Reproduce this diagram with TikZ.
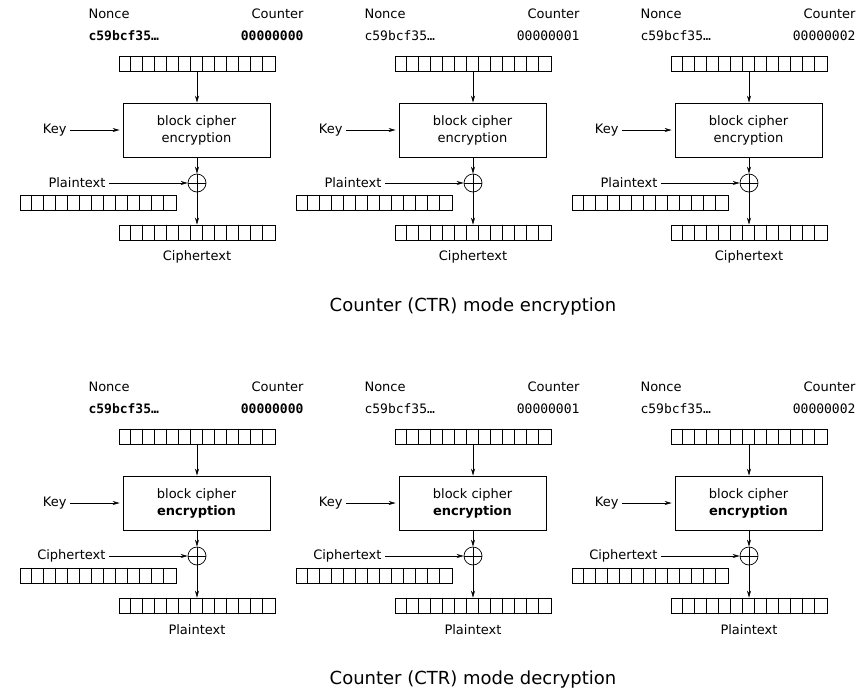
\documentclass[tikz,border=0pt]{standalone}
\usepackage{fontspec}
\setmainfont{DejaVu Sans}
\setmonofont{DejaVu Sans Mono}
\usetikzlibrary{arrows.meta}
\begin{document}
\begin{tikzpicture}[x=1pt,y=-1pt,font=\fontsize{13}{15}\selectfont,
  arr/.style={-{Stealth[length=7pt,width=4pt]},line width=0.6pt},
  box/.style={draw,line width=0.8pt,minimum width=147pt,minimum height=54pt,inner sep=0pt,align=center,font=\fontsize{13}{17}\selectfont},
  reg/.style={draw,line width=0.7pt,minimum width=156pt,minimum height=15pt,inner sep=0pt},
  xorc/.style={draw,circle,line width=0.7pt,minimum size=18pt,inner sep=0pt}]
\useasboundingbox (0,0) rectangle (867,699);
\fill[white] (0,0) rectangle (867,699);
\foreach \r/\oy/\inl/\outl/\fw/\ttl in {e/0/Plaintext/Ciphertext/\mdseries/encryption, d/373/Ciphertext/Plaintext/\bfseries/decryption}{
 \node[font=\fontsize{18}{20}\selectfont] (t\r) at (473,307+\oy) {Counter (CTR) mode \ttl};
 \foreach \c/\ox/\cnt/\mw in {1/0/00000000/\bfseries,2/276/00000001/\mdseries,3/552/00000002/\mdseries}{
  \begin{scope}[shift={(\ox,\oy)}]
   \node[anchor=west] (n\r\c) at (85,14) {Nonce};
   \node[anchor=east] (c\r\c) at (307,14) {Counter};
   \node[anchor=west,font=\fontsize{13}{15}\ttfamily\mw] (nv\r\c) at (85,36) {c59bcf35…};
   \node[anchor=east,font=\fontsize{13}{15}\ttfamily\mw] (cv\r\c) at (307,36) {\cnt};
   \node[reg] (top\r\c) at (197,63.5) {};
   \node[box] (b\r\c) at (196.5,130) {block cipher\\{\fw encryption}};
   \node[anchor=east] (k\r\c) at (70,130) {Key};
   \node[xorc] (x\r\c) at (197,183) {};
   \draw[line width=0.7pt] (x\r\c.north) -- (x\r\c.south) (x\r\c.west) -- (x\r\c.east);
   \node[anchor=east] (i\r\c) at (109,183) {\inl};
   \node[reg] (in\r\c) at (98,202.5) {};
   \node[reg] (out\r\c) at (197,232.5) {};
   \node (o\r\c) at (197,257) {\outl};
   \foreach \q in {top\r\c,in\r\c,out\r\c}
     \foreach \k in {1,...,12} \draw[line width=0.7pt] ([xshift=12*\k pt]\q.north west) -- ([xshift=12*\k pt]\q.south west);
   \draw[arr] (top\r\c.south) -- (b\r\c.north -| top\r\c.south);
   \draw[arr,shorten >=3pt] (k\r\c.east) -- (b\r\c.west);
   \draw[arr] (b\r\c.south -| x\r\c.north) -- (x\r\c.north);
   \draw[arr] (i\r\c.east) -- (x\r\c.west);
   \draw[arr] (x\r\c.south) -- (out\r\c.north);
  \end{scope}
 }
}
\end{tikzpicture}
\end{document}
